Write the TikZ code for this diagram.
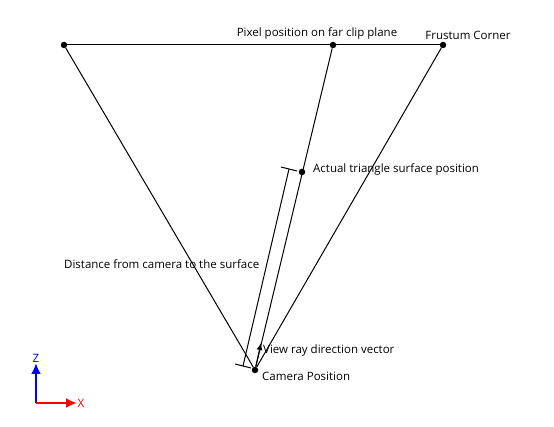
\documentclass[tikz,border=0pt]{standalone}
\usepackage{fontspec}
\setmainfont{Open Sans}
\usepackage{tikz}
\usetikzlibrary{arrows,arrows.meta,positioning}

\begin{document}
\begin{tikzpicture}[
    x=1pt, y=-1pt,
    dot/.style={circle, fill=black, inner sep=0pt, minimum size=6.5pt},
    lbl/.style={font=\fontsize{11.5}{13}\selectfont, inner sep=1pt},
    line/.style={line width=1pt},
    axis/.style={line width=2.6pt, -{Latex[length=11pt,width=10pt]}}
]
\useasboundingbox (0,0) rectangle (554,427);

\node [dot] (left) at (64,45) {};
\node [dot] (pixel) at (333,45) {};
\node [dot] (corner) at (443,45) {};
\node [dot] (surface) at (302,172) {};
\node [dot] (cam) at (255,370) {};

% frustum
\draw [line] (left) -- (corner);
\draw [line] (left) -- (cam);
\draw [line] (corner) -- (cam);
\draw [line] (pixel) -- (cam);

% distance bar
\coordinate (dtop) at (289,169);
\coordinate (dbot) at (243,366);
\draw [line] (dtop) -- (dbot);
\draw [line] ([shift={(-8,-2)}]dtop) -- ([shift={(8,2)}]dtop);
\draw [line] ([shift={(-8,-2)}]dbot) -- ([shift={(8,2)}]dbot);

% view ray
\coordinate (viewtip) at (261,343);
\draw [line, -{Latex[length=7pt,width=6pt]}] (cam) -- (viewtip);

\node [lbl, anchor=base] at (317,37) {Pixel position on far clip plane};
\node [lbl, anchor=base] at (468,40) {Frustum Corner};
\node [lbl, anchor=base west] at (312,173) {Actual triangle surface position};
\node [lbl, anchor=base west] at (63,269) {Distance from camera to the surface};
\node [lbl, anchor=base west] at (262,354) {View ray direction vector};
\node [lbl, anchor=base west] at (261,381) {Camera Position};

% axes
\coordinate (origin) at (36,403);
\draw [axis, blue] (origin) -- (36,363) coordinate (zend);
\draw [axis, red] (origin) -- (77,403) coordinate (xend);
\node [lbl, blue, anchor=south, inner sep=0pt] at (zend) {Z};
\node [lbl, red, anchor=west, inner sep=0.5pt] at (xend) {X};
\end{tikzpicture}
\end{document}
